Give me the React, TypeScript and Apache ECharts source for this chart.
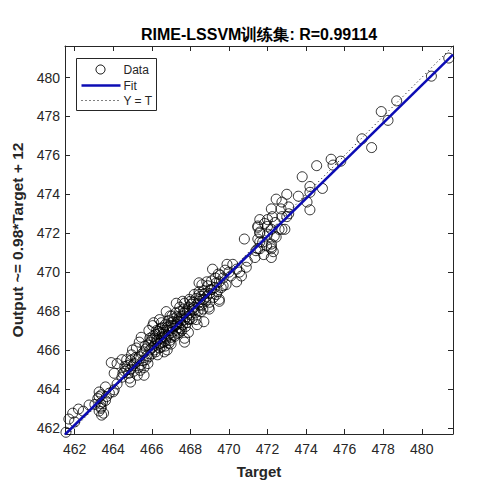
import React, { useEffect, useRef } from "react";
import * as echarts from "echarts";

const targets = [
  461.55, 461.45, 461.7, 461.9, 462.0, 462.2, 462.75, 463.27, 463.27, 463.37, 463.6, 464.0, 464.2, 464.9,
  463.27, 463.4, 463.2, 463.45, 463.37, 463.8, 464.05, 463.6, 463.35, 463.5, 463.4, 462.45, 463.05, 463.65,
  464.45, 464.8, 464.7, 463.9, 464.05, 464.2, 464.5, 464.7, 464.45, 464.85, 464.9, 465.1, 465.45, 465.6,
  465.6, 465.35, 465.0, 465.2, 465.35, 465.6, 465.0, 464.6, 465.25, 464.95, 465.4, 465.7, 465.8,
  465.8, 465.85, 465.85, 466.0, 466.1, 466.2, 466.3, 466.4, 466.4, 466.5, 466.55, 466.75, 466.75, 466.8,
  467.05, 467.2, 467.27, 467.45, 467.5, 467.6, 467.7, 467.7, 465.9, 466.0, 466.1, 466.2, 466.3, 466.35,
  466.5, 466.6, 466.65, 466.7, 466.85, 466.9, 466.95, 467.0, 467.05, 467.1, 467.15, 467.25, 467.3, 467.35,
  467.4, 467.5, 467.55, 467.6, 467.65, 467.7, 467.75, 467.8, 465.95, 466.05, 466.15, 466.25, 466.45, 466.55,
  466.6, 466.7, 466.8, 466.9, 467.0, 467.1, 467.2, 467.3, 467.4, 466.2, 465.7, 465.75, 466.35, 466.45,
  466.85, 467.05, 467.45,
  464.6, 464.75, 464.9, 465.05, 465.15, 465.3, 465.5, 465.55, 465.65, 465.9, 466.0, 466.15, 466.25, 466.4,
  466.5, 466.6, 466.7, 466.85, 466.95, 467.0, 467.15, 467.25, 467.35, 467.45, 467.55, 467.65, 467.8, 467.85,
  467.9, 468.0, 468.1, 468.2, 468.3, 468.4, 468.55, 468.65, 468.7, 468.85, 469.0, 469.1, 469.3, 469.4,
  469.55, 469.7, 469.8, 465.45, 466.05, 465.25, 466.65, 467.9,
  467.95, 467.7, 468.45, 468.95, 468.1, 467.7, 467.5, 467.95, 468.7, 468.35, 468.3, 468.55, 468.98, 469.5,
  468.7, 468.2, 468.45, 468.6, 469.05, 469.35, 468.45, 468.9, 468.45, 468.2, 469.35, 469.5, 469.1, 469.6,
  469.5, 469.85, 467.95, 467.9, 468.0, 468.15, 468.25, 468.4, 468.6, 468.75, 468.8, 468.85, 469.0, 469.2,
  469.25, 468.05, 468.5,
  469.15, 469.9, 470.4, 470.9, 470.65, 470.1, 470.4, 469.7, 470.0, 470.2, 470.95, 471.4, 470.8, 469.45, 470.55,
  471.5, 471.6, 472.0, 471.75, 472.2, 471.5, 472.35, 472.6, 472.2, 471.5, 471.6, 471.95, 471.6, 472.2,
  472.45, 471.6, 472.2, 472.9, 471.5, 472.0, 471.6, 472.0, 472.25, 472.75, 473.0, 473.1, 472.2, 472.7,
  473.1, 472.75, 472.45, 473.0, 472.75, 472.2, 471.8, 472.3, 471.35, 472.4, 471.85,
  473.8, 474.2, 474.85, 474.05, 474.2, 474.55, 475.3, 475.8, 475.4, 474.2, 473.6,
  476.9, 477.4, 477.9, 478.25, 478.7, 480.5, 481.4,
];

const outputs = [
  461.77, 462.7, 462.45, 462.75, 462.3, 462.96, 463.17, 463.6, 462.86, 463.0, 463.4, 463.85, 464.25, 464.35,
  463.84, 463.7, 463.5, 463.33, 463.07, 463.78, 463.95, 464.1, 463.25, 462.75, 462.65, 462.85, 463.2, 463.6,
  464.6, 464.8, 464.97, 465.35, 464.8, 465.3, 464.8, 465.5, 465.5, 464.55, 465.0, 465.3, 465.25, 465.1,
  464.7, 465.65, 466.0, 466.1, 466.4, 465.9, 465.2, 465.15, 465.5, 465.75, 464.95, 465.5, 465.3,
  466.25, 465.65, 467.0, 466.5, 467.4, 466.35, 465.75, 466.85, 467.56, 466.15, 467.15, 466.6, 467.97, 466.0,
  467.2, 466.7, 468.4, 467.97, 467.4, 468.5, 466.6, 466.4, 466.0, 466.1, 466.2, 466.8, 466.5, 466.3,
  466.6, 466.4, 466.9, 467.3, 466.75, 467.0, 466.5, 467.4, 466.9, 467.1, 467.6, 467.0, 467.3, 466.85,
  467.6, 467.1, 467.75, 467.3, 467.9, 467.55, 467.2, 467.7, 466.4, 466.7, 466.0, 466.55, 466.35, 466.8,
  467.0, 466.2, 467.15, 466.35, 466.65, 467.45, 467.25, 467.7, 467.15, 465.9, 466.05, 465.7, 466.95, 467.1,
  467.5, 467.75, 466.9,
  464.9, 465.2, 465.45, 464.9, 465.6, 465.1, 465.8, 465.45, 466.2, 466.6, 465.8, 466.6, 467.0, 466.1,
  467.4, 466.7, 466.45, 467.2, 467.75, 466.3, 466.75, 467.9, 467.45, 468.2, 467.0, 468.1, 467.4, 468.0,
  467.6, 468.5, 467.6, 468.05, 468.65, 468.4, 468.75, 468.1, 469.05, 469.5, 468.45, 469.55, 469.7, 469.0,
  469.85, 469.3, 470.1, 466.65, 467.25, 464.7, 465.9, 466.9,
  468.6, 468.4, 468.3, 468.2, 468.1, 467.9, 467.56, 467.56, 467.45, 467.3, 467.56, 467.97, 468.1, 468.5,
  468.6, 468.2, 468.85, 469.35, 469.1, 469.45, 469.45, 469.3, 469.0, 468.85, 468.85, 468.6, 469.1, 469.2,
  469.5, 469.35, 467.9, 468.2, 467.8, 468.45, 467.9, 468.0, 468.3, 468.9, 468.5, 468.75, 468.9, 468.7,
  469.2, 468.35, 468.6,
  470.15, 470.4, 470.15, 470.25, 469.8, 469.8, 469.5, 469.7, 470.0, 470.4, 470.56, 471.1, 471.7, 469.9, 470.0,
  472.37, 472.06, 471.95, 471.54, 471.44, 471.7, 471.85, 472.2, 471.2, 471.2, 471.55, 471.35, 471.2, 471.3,
  471.8, 472.0, 472.2, 472.2, 472.3, 472.35, 472.7, 472.7, 472.85, 472.85, 472.85, 473.0, 473.25, 473.25,
  473.35, 473.6, 473.75, 474.0, 472.2, 470.75, 470.9, 471.05, 470.75, 472.55, 472.5,
  474.9, 474.4, 474.3, 473.6, 473.2, 475.47, 475.8, 475.7, 475.5, 474.1, 473.9,
  476.85, 476.4, 478.25, 477.8, 478.8, 480.07, 481.0,
];

const tickValues = [462, 464, 466, 468, 470, 472, 474, 476, 478, 480];
const fitSlope = 0.97;
const fitIntercept = 14.0;
const xMin = 461.5;
const xMax = 481.62;
const yMin = 461.68;
const yMax = 481.62;

const titleText = "RIME-LSSVM训练集: R=0.99114";
const xName = "Target";
const yName = "Output ~= 0.98*Target + 12";
const legendLabels = ["Data", "Fit", "Y = T"];

const FONT = "'Liberation Sans', Arial, Helvetica, sans-serif";
const AX = "#262626";

export default function App() {
  const ref = useRef<HTMLDivElement>(null);
  useEffect(() => {
    const chart = echarts.init(ref.current!, null, { renderer: "svg" });
    const points = targets.map((t, i) => [t, outputs[i]]);
    const fitLine = [
      [xMin, fitSlope * xMin + fitIntercept],
      [xMax, fitSlope * xMax + fitIntercept],
    ];
    const identity = [
      [xMin, xMin],
      [xMax, xMax],
    ];
    const baseAxis = {
      type: "value" as const,
      axisLine: { show: true, onZero: false, lineStyle: { color: AX, width: 1 } },
      axisTick: { show: true, inside: true, length: 5, customValues: tickValues, lineStyle: { color: AX } },
      splitLine: { show: false },
    };
    const option: any = {
      animation: false,
      backgroundColor: "#fff",
      grid: { left: 65, top: 46, right: 47, bottom: 66, containLabel: false },
      xAxis: [
        {
          ...baseAxis,
          min: xMin,
          max: xMax,
          position: "bottom",
          axisLabel: { customValues: tickValues, color: AX, fontSize: 14, fontFamily: FONT, margin: 8 },
          name: xName,
          nameLocation: "middle",
          nameGap: 30,
          nameTextStyle: { fontSize: 15, fontWeight: "bold", color: AX, fontFamily: FONT },
        },
        {
          ...baseAxis,
          min: xMin,
          max: xMax,
          position: "top",
          axisLabel: { show: false },
        },
      ],
      yAxis: [
        {
          ...baseAxis,
          min: yMin,
          max: yMax,
          position: "left",
          axisLabel: { customValues: tickValues, color: AX, fontSize: 14, fontFamily: FONT, margin: 5 },
          name: yName,
          nameLocation: "middle",
          nameGap: 38,
          nameRotate: 90,
          nameTextStyle: { fontSize: 15.5, fontWeight: "bold", color: AX, fontFamily: FONT },
        },
        {
          ...baseAxis,
          min: yMin,
          max: yMax,
          position: "right",
          axisLabel: { show: false },
        },
      ],
      series: [
        {
          type: "scatter",
          data: points,
          symbol: "circle",
          symbolSize: 10,
          itemStyle: { color: "transparent", borderColor: "#000", borderWidth: 1 },
          silent: true,
        },
        {
          type: "line",
          data: fitLine,
          showSymbol: false,
          symbol: "none",
          lineStyle: { color: "#0c0cb4", width: 2.5 },
          silent: true,
        },
        {
          type: "line",
          data: identity,
          showSymbol: false,
          symbol: "none",
          lineStyle: { color: "#000", width: 1, type: [1, 3] },
          silent: true,
        },
      ],
      graphic: [
        {
          type: "text",
          x: 259,
          y: 34,
          style: {
            text: titleText,
            fontSize: 16,
            fontWeight: "bold",
            fontFamily: FONT,
            fill: "#000",
            align: "center",
            verticalAlign: "middle",
          },
        },
        {
          type: "group",
          left: 76,
          top: 58,
          children: [
            { type: "rect", shape: { x: 0, y: 0, width: 80, height: 52 }, style: { fill: "#fff", stroke: AX, lineWidth: 1 } },
            { type: "circle", shape: { cx: 24, cy: 11, r: 4.5 }, style: { fill: "none", stroke: "#000", lineWidth: 1 } },
            { type: "line", shape: { x1: 5, y1: 27, x2: 44, y2: 27 }, style: { stroke: "#0c0cb4", lineWidth: 2.5 } },
            { type: "line", shape: { x1: 5, y1: 42, x2: 44, y2: 42 }, style: { stroke: "#000", lineWidth: 1, lineDash: [1, 3] } },
            { type: "text", x: 47, y: 11, style: { text: legendLabels[0], fontSize: 12, fontFamily: FONT, fill: AX, verticalAlign: "middle" } },
            { type: "text", x: 47, y: 27, style: { text: legendLabels[1], fontSize: 12, fontFamily: FONT, fill: AX, verticalAlign: "middle" } },
            { type: "text", x: 47, y: 42, style: { text: legendLabels[2], fontSize: 12, fontFamily: FONT, fill: AX, verticalAlign: "middle" } },
          ],
        },
      ],
    };
    chart.setOption(option);
    return () => chart.dispose();
  }, []);
  return (
    <div
      ref={ref}
      style={{ position: "fixed", left: 0, top: 0, width: 500, height: 500, background: "#fff" }}
    />
  );
}
